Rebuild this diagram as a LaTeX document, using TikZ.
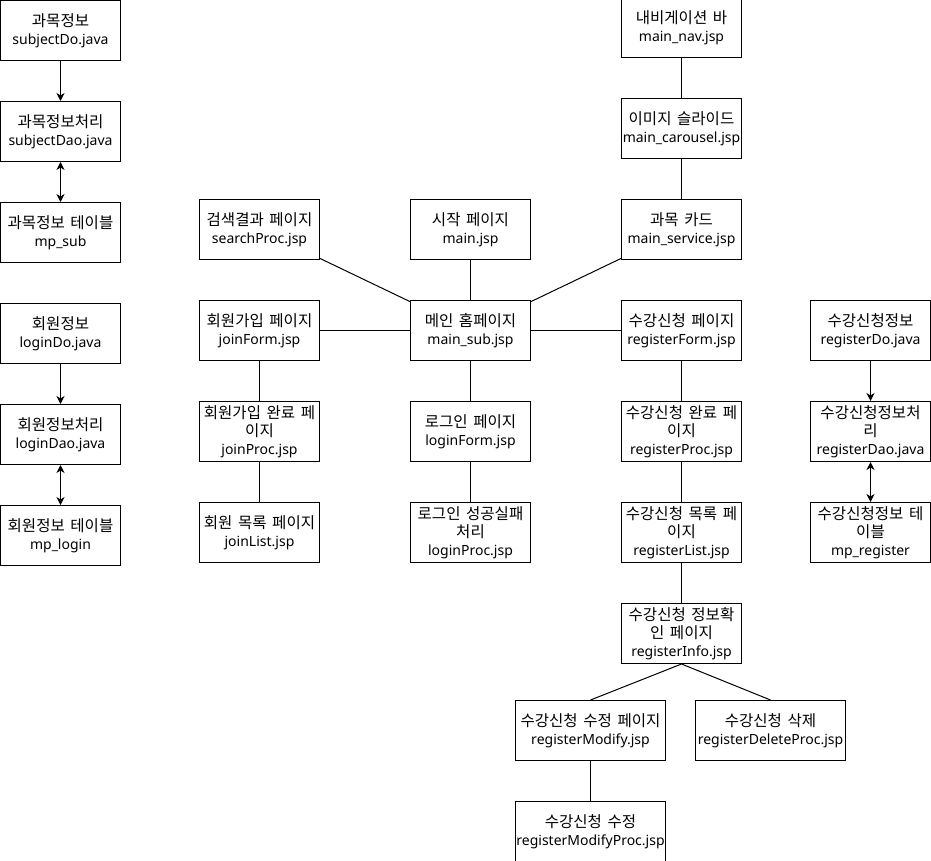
\documentclass[tikz,border=0pt]{standalone}
\usepackage{fontspec}
\setmainfont{Noto Sans}
\newfontfamily\kr[Scale=1.11,WordSpace=1.6]{Noto Sans CJK KR}
\usetikzlibrary{positioning,arrows.meta}

\begin{document}
\begin{tikzpicture}[
        x=1pt, y=-1pt,
        node distance=40pt and 90pt,
        box/.style={rectangle, draw, fill=white, text=black, line width=1pt,
            minimum width=#1,
            minimum height=60pt, inner sep=1pt,
            align=center, font=\fontsize{14}{18}\selectfont},
        box/.default=120pt,
        link/.style={draw, line width=1pt},
        dep/.style={-{Stealth[length=8pt,width=8pt,inset=2.5pt]}, line width=1pt},
        dep2/.style={{Stealth[length=8pt,width=8pt,inset=2.5pt]}-{Stealth[length=8pt,width=8pt,inset=2.5pt]}, line width=1pt}
    ]
        \useasboundingbox (0,0) rectangle (931,861);

        % Data classes (left column)
        \node[box] (subjDo) at (60.5,30.5) {{\kr 과목정보}\\subjectDo.java};
        \node[box, below=of subjDo] (subjDao) {{\kr 과목정보처리}\\subjectDao.java};
        \node[box, below=of subjDao] (subjTbl) {{\kr 과목정보 테이블}\\mp\_sub};
        \node[box, below=of subjTbl] (loginDo) {{\kr 회원정보}\\loginDo.java};
        \node[box, below=of loginDo] (loginDao) {{\kr 회원정보처리}\\loginDao.java};
        \node[box, below=of loginDao] (loginTbl) {{\kr 회원정보 테이블}\\mp\_login};

        % Pages
        \node[box] (mainSub) at (470.5,330.5) {{\kr 메인 홈페이지}\\main\_sub.jsp};
        \node[box, above=of mainSub] (mainPage) {{\kr 시작 페이지}\\main.jsp};
        \node[box, below=of mainSub] (loginForm) {{\kr 로그인 페이지}\\loginForm.jsp};
        \node[box, below=of loginForm] (loginProc) {{\kr 로그인 성공실패}\\{\kr 처리}\\loginProc.jsp};

        \node[box, left=of mainSub] (joinForm) {{\kr 회원가입 페이지}\\joinForm.jsp};
        \node[box, above=of joinForm] (search) {{\kr 검색결과 페이지}\\searchProc.jsp};
        \node[box, below=of joinForm] (joinProc) {{\kr 회원가입 완료 페}\\{\kr 이지}\\joinProc.jsp};
        \node[box, below=of joinProc] (joinList) {{\kr 회원 목록 페이지}\\joinList.jsp};

        \node[box, right=of mainSub] (regForm) {{\kr 수강신청 페이지}\\registerForm.jsp};
        \node[box, above=of regForm] (service) {{\kr 과목 카드}\\main\_service.jsp};
        \node[box, above=of service] (carousel) {{\kr 이미지 슬라이드}\\main\_carousel.jsp};
        \node[box, above=of carousel] (nav) {{\kr 내비게이션 바}\\main\_nav.jsp};
        \node[box, below=of regForm] (regProc) {{\kr 수강신청 완료 페}\\{\kr 이지}\\registerProc.jsp};
        \node[box, below=of regProc] (regList) {{\kr 수강신청 목록 페}\\{\kr 이지}\\registerList.jsp};
        \node[box, below=of regList] (regInfo) {{\kr 수강신청 정보확}\\{\kr 인 페이지}\\registerInfo.jsp};

        \node[box=150pt] (regModify) at (590.5,730.5) {{\kr 수강신청 수정 페이지}\\registerModify.jsp};
        \node[box=150pt] (regDelete) at (770.5,730.5) {{\kr 수강신청 삭제}\\registerDeleteProc.jsp};
        \node[box=150pt, below=of regModify] (regModifyProc) {{\kr 수강신청 수정}\\registerModifyProc.jsp};

        % Data classes (right column)
        \node[box] (regDo) at (870.5,330.5) {{\kr 수강신청정보}\\registerDo.java};
        \node[box, below=of regDo] (regDao) {{\kr 수강신청정보처}\\{\kr 리}\\registerDao.java};
        \node[box, below=of regDao] (regTbl) {{\kr 수강신청정보 테}\\{\kr 이블}\\mp\_register};

        % Connections
        \draw[dep] (subjDo) -- (subjDao);
        \draw[dep2] (subjDao) -- (subjTbl);
        \draw[dep] (loginDo) -- (loginDao);
        \draw[dep2] (loginDao) -- (loginTbl);
        \draw[dep] (regDo) -- (regDao);
        \draw[dep2] (regDao) -- (regTbl);

        \draw[link] (nav) -- (carousel);
        \draw[link] (carousel) -- (service);
        \draw[link] (service) -- (mainSub);
        \draw[link] (search) -- (mainSub);
        \draw[link] (mainPage) -- (mainSub);
        \draw[link] (joinForm) -- (mainSub);
        \draw[link] (mainSub) -- (regForm);
        \draw[link] (mainSub) -- (loginForm);
        \draw[link] (loginForm) -- (loginProc);
        \draw[link] (joinForm) -- (joinProc);
        \draw[link] (joinProc) -- (joinList);
        \draw[link] (regForm) -- (regProc);
        \draw[link] (regProc) -- (regList);
        \draw[link] (regList) -- (regInfo);
        \draw[link] (regInfo.south) -- (regModify.north);
        \draw[link] (regInfo.south) -- (regDelete.north);
        \draw[link] (regModify) -- (regModifyProc);
    \end{tikzpicture}
\end{document}
